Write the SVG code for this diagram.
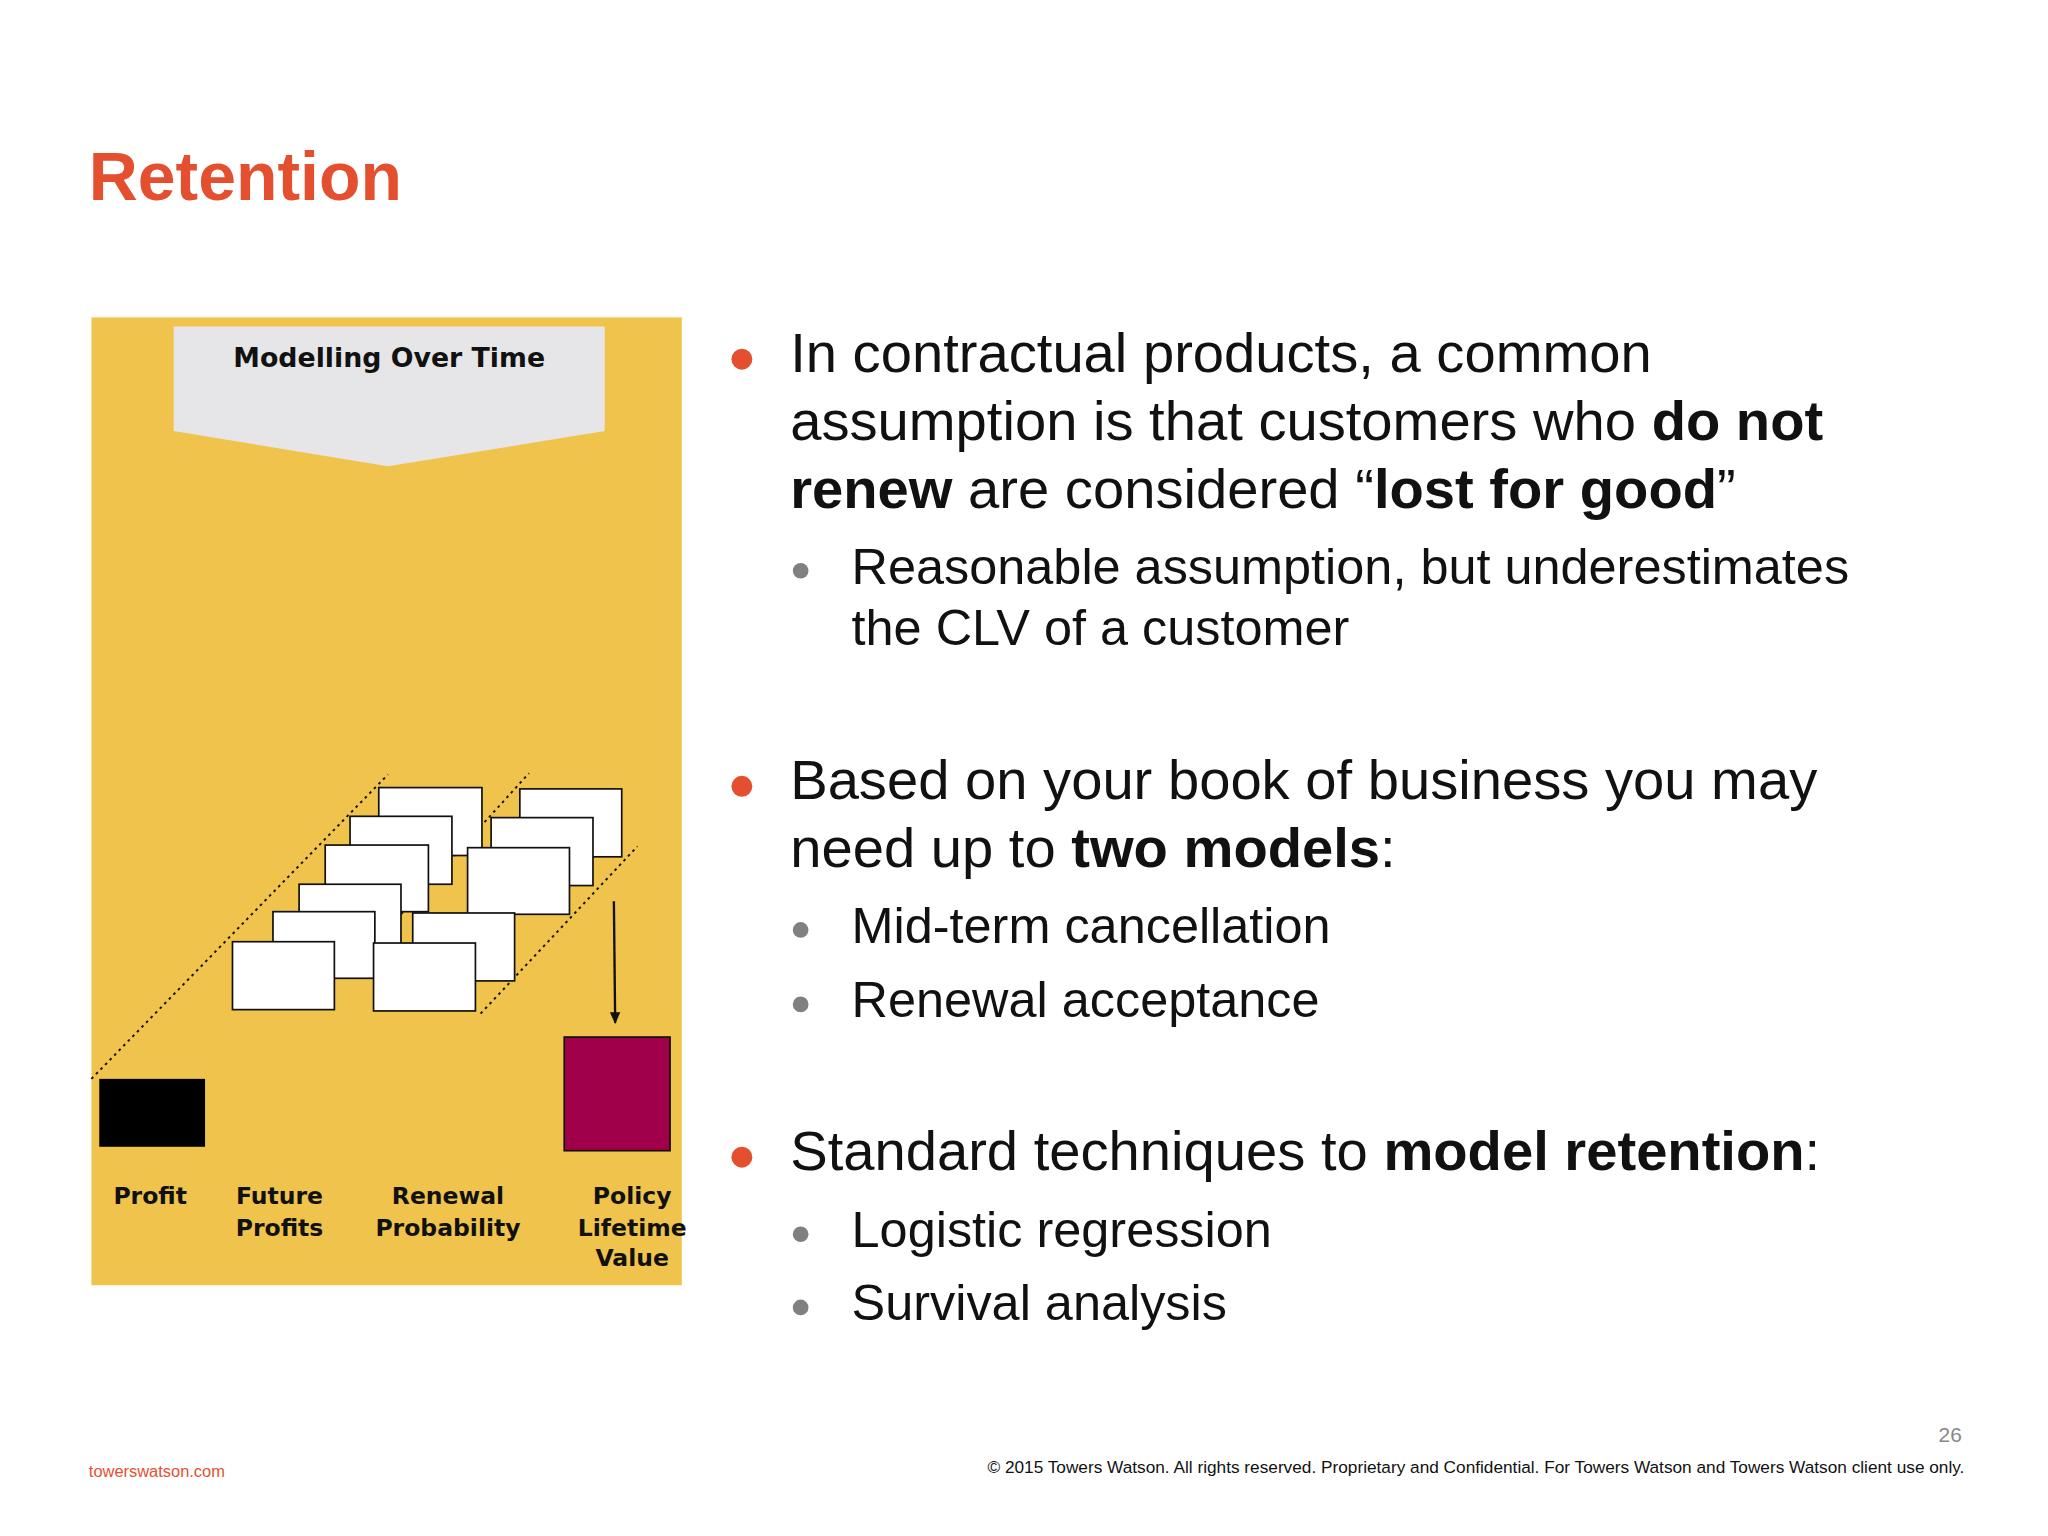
<svg xmlns="http://www.w3.org/2000/svg" width="2048" height="1536" viewBox="0 0 2048 1536">
<style>
.b{font-family:"Liberation Sans",Arial,sans-serif;fill:#111}
.lbl{font-family:"DejaVu Sans",Verdana,sans-serif;font-weight:bold;font-size:18px;fill:#111;text-anchor:middle}
.card{fill:#fff;stroke:#111;stroke-width:1.3}
.dot{stroke:#111;stroke-width:1.5;stroke-dasharray:2 3;fill:none}
.big{font-size:43px}
.sub{font-size:38.6px}
</style>
<defs><marker id="ah" markerWidth="10" markerHeight="10" refX="8" refY="5" orient="auto" markerUnits="userSpaceOnUse"><path d="M0,1 L9,5 L0,9 Z" fill="#111"/></marker></defs>
<rect width="2048" height="1536" fill="#fff"/>
<g transform="scale(1.30612)">
<text x="68" y="153" font-family="Liberation Sans,Arial,sans-serif" font-weight="bold" font-size="52" fill="#E4502F">Retention</text>
<g id="panel">
<rect x="70" y="243" width="452" height="741" fill="#F0C44C"/>
<polygon points="133,250 463,250 463,330 297,357 133,330" fill="#E6E6E8"/>
<text x="298" y="281" class="lbl" style="font-size:20.5px">Modelling Over Time</text>
</g>
<g id="connectors">
<line x1="70" y1="826" x2="297" y2="593" class="dot"/>
<line x1="287" y1="722" x2="405" y2="592" class="dot"/>
<line x1="368" y1="776" x2="488" y2="648" class="dot"/>
<line x1="470" y1="690" x2="471" y2="783" stroke="#111" stroke-width="1.8" marker-end="url(#ah)"/>
</g>
<g id="cards">
<rect class="card" x="398" y="604" width="78" height="52"/>
<rect class="card" x="376" y="626" width="78" height="52"/>
<rect class="card" x="290" y="603" width="79" height="52"/>
<rect class="card" x="268" y="625" width="78" height="52"/>
<rect class="card" x="249" y="647" width="79" height="51"/>
<rect class="card" x="358" y="649" width="78" height="51"/>
<rect class="card" x="229" y="677" width="78" height="50"/>
<rect class="card" x="209" y="698" width="78" height="51"/>
<rect class="card" x="178" y="721" width="78" height="52"/>
<rect class="card" x="316" y="699" width="78" height="52"/>
<rect class="card" x="286" y="722" width="78" height="52"/>
</g>
<g id="profit"><rect x="76" y="826" width="81" height="52" fill="#000"/><text x="115" y="922" class="lbl">Profit</text></g>
<g id="future"><text x="214" y="922" class="lbl">Future</text><text x="214" y="946" class="lbl">Profits</text></g>
<g id="renewal"><text x="343" y="922" class="lbl">Renewal</text><text x="343" y="946" class="lbl">Probability</text></g>
<g id="plv"><rect x="432" y="794" width="81" height="87" fill="#A0004A" stroke="#111" stroke-width="1.3"/><text x="484" y="922" class="lbl">Policy</text><text x="484" y="946" class="lbl">Lifetime</text><text x="484" y="969" class="lbl">Value</text></g>
<g id="bullets">
<circle cx="568" cy="275" r="8" fill="#E4502F"/>
<text x="605" y="285" class="b big">In contractual products, a common</text>
<text x="605" y="337" class="b big">assumption is that customers who <tspan font-weight="bold">do not</tspan></text>
<text x="605" y="389" class="b big"><tspan font-weight="bold">renew</tspan> are considered “<tspan font-weight="bold">lost for good</tspan>”</text>
<circle cx="613" cy="437" r="6" fill="#808080"/>
<text x="652" y="447" class="b sub">Reasonable assumption, but underestimates</text>
<text x="652" y="494" class="b sub">the CLV of a customer</text>
<circle cx="568" cy="602" r="8" fill="#E4502F"/>
<text x="605" y="612" class="b big">Based on your book of business you may</text>
<text x="605" y="664" class="b big">need up to <tspan font-weight="bold">two models</tspan>:</text>
<circle cx="613" cy="712" r="6" fill="#808080"/>
<text x="652" y="722" class="b sub">Mid-term cancellation</text>
<circle cx="613" cy="769" r="6" fill="#808080"/>
<text x="652" y="779" class="b sub">Renewal acceptance</text>
<circle cx="568" cy="886" r="8" fill="#E4502F"/>
<text x="605" y="896" class="b big">Standard techniques to <tspan font-weight="bold">model retention</tspan>:</text>
<circle cx="613" cy="945" r="6" fill="#808080"/>
<text x="652" y="955" class="b sub">Logistic regression</text>
<circle cx="613" cy="1001" r="6" fill="#808080"/>
<text x="652" y="1011" class="b sub">Survival analysis</text>
</g>
<text x="1502" y="1104" text-anchor="end" font-family="Liberation Sans,Arial,sans-serif" font-size="16" fill="#888">26</text>
<text x="68" y="1131" font-family="Liberation Sans,Arial,sans-serif" font-size="12.6" fill="#E4502F">towerswatson.com</text>
<text x="1504" y="1128" text-anchor="end" font-family="Liberation Sans,Arial,sans-serif" font-size="13.2" fill="#111">© 2015 Towers Watson. All rights reserved. Proprietary and Confidential. For Towers Watson and Towers Watson client use only.</text>
</g>
</svg>
